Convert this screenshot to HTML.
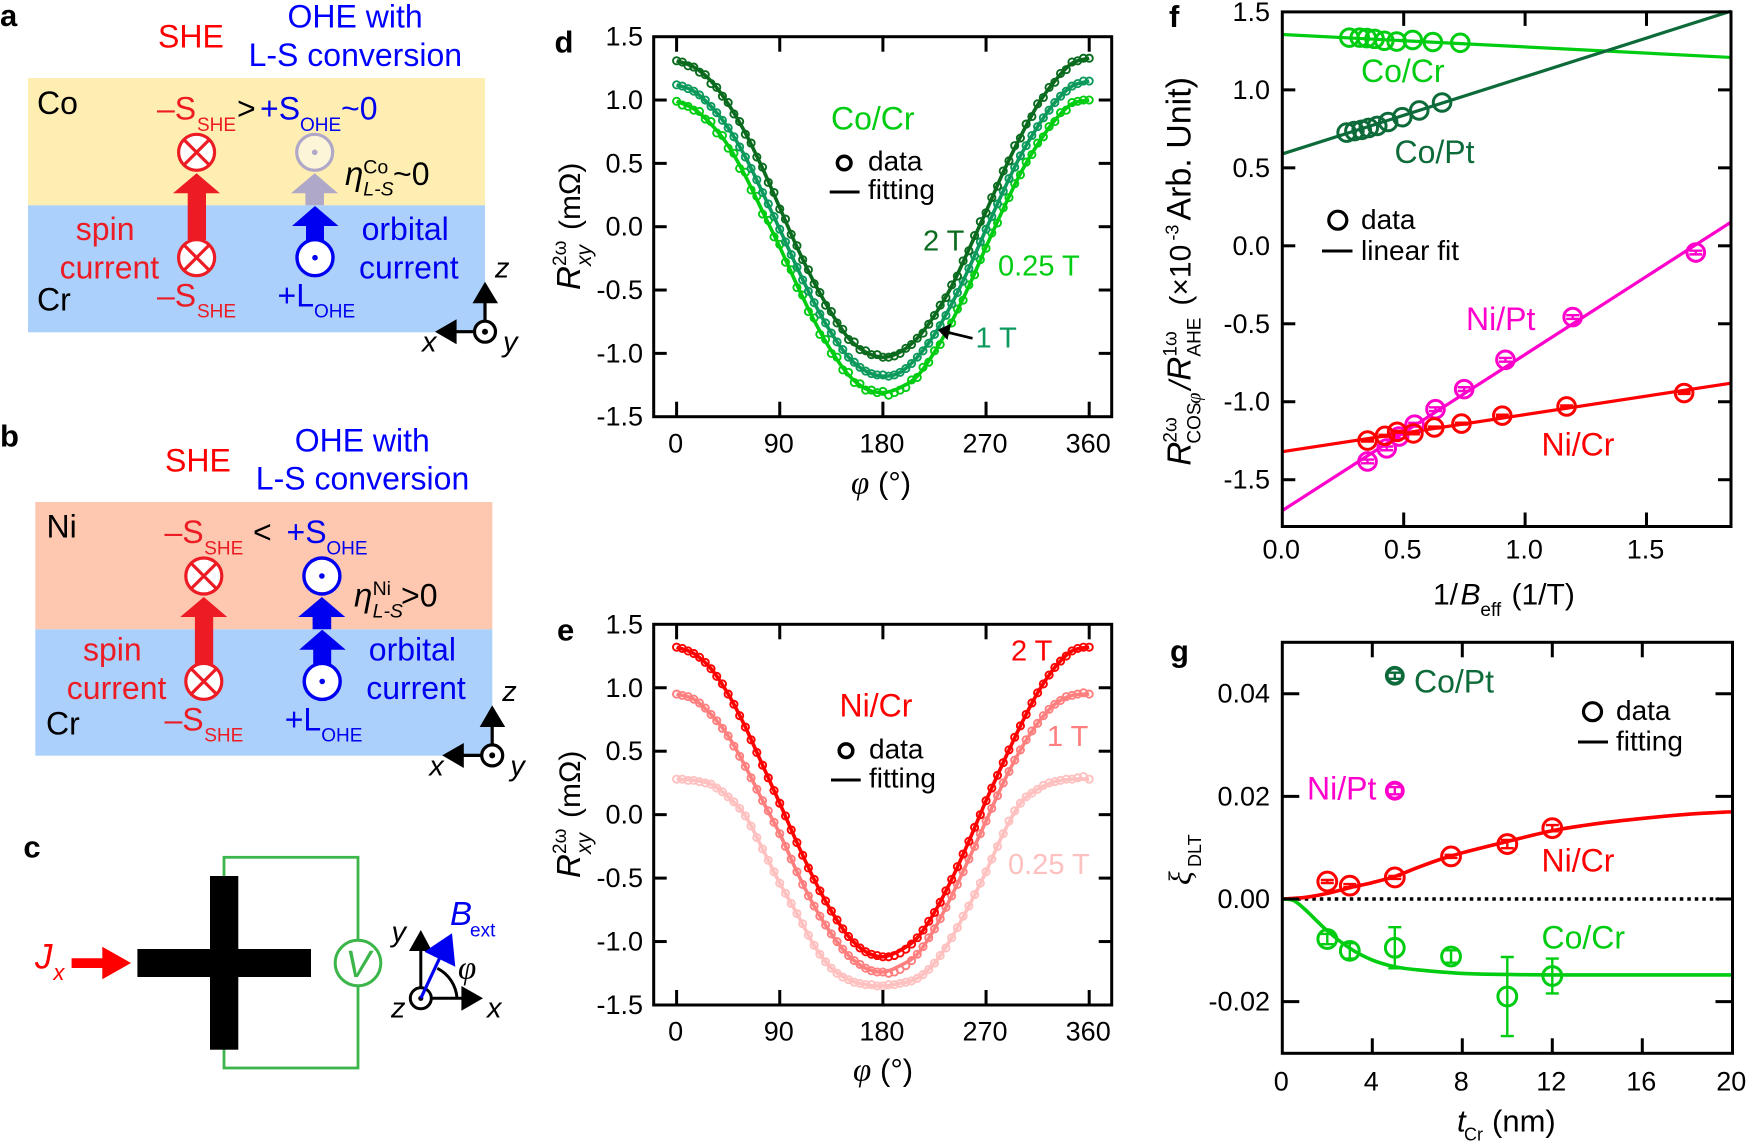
<!DOCTYPE html>
<html lang="en"><head><meta charset="utf-8"><title>SHE and OHE figure</title>
<style>
html,body{margin:0;padding:0;background:#fff}
svg{display:block;font-family:"Liberation Sans",sans-serif}
.i{font-style:italic}
.s{font-family:"Liberation Serif",serif;font-style:italic}
.b{font-weight:bold;font-size:31px}
.m{font-size:32px}
.u{font-size:19px}
.red{fill:#ed1c24}.blu{fill:#0000f0}
</style></head><body>
<svg id="figure" width="1748" height="1143" viewBox="0 0 1748 1143">
<rect x="0" y="0" width="1748" height="1143" fill="#fff"/>

<!-- Panel a -->
<g>
<text x="0" y="26" class="b">a</text>
<rect x="28" y="78" width="457" height="127.3" fill="#feeeb2"/>
<rect x="28" y="205.3" width="457" height="127" fill="#aad0fb"/>
<text x="158" y="47.7" class="m" fill="#ff0000">SHE</text>
<text x="287.5" y="27.7" class="m" fill="#0000ff">OHE with</text>
<text x="248.6" y="66" class="m" fill="#0000ff">L-S conversion</text>
<text x="37" y="114" class="m">Co</text>
<text x="37" y="310.7" class="m">Cr</text>
<text x="157" y="119.3" class="m red">–S</text>
<text x="197" y="131" class="u red">SHE</text>
<text x="237" y="119.3" class="m">&gt;</text>
<text x="260" y="119.3" class="m blu">+S</text>
<text x="300" y="131" class="u blu">OHE</text>
<text x="341" y="119.3" class="m blu">~0</text>
<polygon points="196.6,173.3 220,193.3 206,193.3 206,240 187.7,240 187.7,193.3 173,193.3" fill="#ed1c24"/>
<polygon points="314.7,173.3 338,193.3 324,193.3 324,205.3 305.4,205.3 305.4,193.3 291,193.3" fill="#b0a8c8"/>
<polygon points="315,206 338.5,226 324,226 324,242 306,242 306,226 292,226" fill="#0000f0"/>
<g><circle cx="196.6" cy="152.3" r="18" fill="#fff" stroke="#ed1c24" stroke-width="3.2"/><path d="M184 139.7L209.2 164.9M209.2 139.7L184 164.9" stroke="#ed1c24" stroke-width="3.2"/></g>
<g><circle cx="314.7" cy="152.3" r="18" fill="#fdf5d8" stroke="#b0a8c8" stroke-width="3.2"/><circle cx="314.7" cy="152.3" r="2.8" fill="#b0a8c8"/></g>
<g><circle cx="196.6" cy="257.7" r="18" fill="#fff" stroke="#ed1c24" stroke-width="3.2"/><path d="M184 245L209.2 270.3M209.2 245L184 270.3" stroke="#ed1c24" stroke-width="3.2"/></g>
<g><circle cx="315" cy="257.7" r="18" fill="#fff" stroke="#0000f0" stroke-width="3.4"/><circle cx="315" cy="257.7" r="2.8" fill="#0000f0"/></g>
<text x="345" y="185" font-size="33" class="i">η</text>
<text x="363.3" y="173.3" font-size="19.5">Co</text>
<text x="363.3" y="195.7" font-size="19.5" class="i">L-S</text>
<text x="393" y="185" class="m">~0</text>
<text x="75.8" y="240" class="m red">spin</text>
<text x="59.6" y="278.3" class="m red">current</text>
<text x="361.6" y="240" class="m blu">orbital</text>
<text x="359" y="278.3" class="m blu">current</text>
<text x="157" y="306.7" class="m red">–S</text>
<text x="197" y="317.7" class="u red">SHE</text>
<text x="277.5" y="306.7" class="m blu">+L</text>
<text x="314" y="317.7" class="u blu">OHE</text>
<g>
<path d="M485 331.7V303M485 331.7H456" stroke="#000" stroke-width="3.2" fill="none"/>
<polygon points="485,281.7 498,303.3 472.5,303.3" fill="#000"/>
<polygon points="435,331.7 456.6,319.3 456.6,344.3" fill="#000"/>
<circle cx="485" cy="331.7" r="10.5" fill="#fff" stroke="#000" stroke-width="3.2"/><circle cx="485" cy="331.7" r="3" fill="#000"/>
<text x="495" y="277.3" font-size="29" class="i">z</text><text x="422" y="351.7" font-size="29" class="i">x</text><text x="503" y="351.7" font-size="29" class="i">y</text>
</g>
</g>

<!-- Panel b -->
<g>
<text x="0" y="446.7" class="b">b</text>
<rect x="35.3" y="502" width="457" height="127.3" fill="#fec7b0"/>
<rect x="35.3" y="629.3" width="457" height="126.4" fill="#aad0fb"/>
<text x="165" y="471.4" class="m" fill="#ff0000">SHE</text>
<text x="294.7" y="451.4" class="m" fill="#0000ff">OHE with</text>
<text x="255.8" y="489.7" class="m" fill="#0000ff">L-S conversion</text>
<text x="46.5" y="537.5" class="m">Ni</text>
<text x="46" y="734.4" class="m">Cr</text>
<text x="164.5" y="543" class="m red">–S</text>
<text x="204.2" y="554.7" class="u red">SHE</text>
<text x="253" y="543" class="m">&lt;</text>
<text x="286.5" y="543" class="m blu">+S</text>
<text x="326.4" y="554.7" class="u blu">OHE</text>
<polygon points="203.8,597 227.2,617 213.2,617 213.2,664 194.9,664 194.9,617 180.2,617" fill="#ed1c24"/>
<polygon points="321.9,597 345.2,617 331.2,617 331.2,629.3 312.6,629.3 312.6,617 298.2,617" fill="#0000f0"/>
<polygon points="322.2,629.7 345.7,649.7 331.2,649.7 331.2,666 313.2,666 313.2,649.7 299.2,649.7" fill="#0000f0"/>
<g><circle cx="203.8" cy="576" r="18" fill="#fff" stroke="#ed1c24" stroke-width="3.2"/><path d="M191.2 563.4L216.4 588.6M216.4 563.4L191.2 588.6" stroke="#ed1c24" stroke-width="3.2"/></g>
<g><circle cx="321.9" cy="576" r="18" fill="#fff" stroke="#0000f0" stroke-width="3.4"/><circle cx="321.9" cy="576" r="2.8" fill="#0000f0"/></g>
<g><circle cx="203.8" cy="681.4" r="18" fill="#fff" stroke="#ed1c24" stroke-width="3.2"/><path d="M191.2 668.8L216.4 694M216.4 668.8L191.2 694" stroke="#ed1c24" stroke-width="3.2"/></g>
<g><circle cx="322.2" cy="681.4" r="18" fill="#fff" stroke="#0000f0" stroke-width="3.4"/><circle cx="322.2" cy="681.4" r="2.8" fill="#0000f0"/></g>
<text x="354" y="606.7" font-size="33" class="i">η</text>
<text x="372.6" y="595" font-size="19.5">Ni</text>
<text x="372.6" y="617.5" font-size="19.5" class="i">L-S</text>
<text x="401" y="606.7" class="m">&gt;0</text>
<text x="83" y="660.5" class="m red">spin</text>
<text x="66.8" y="699" class="m red">current</text>
<text x="368.8" y="660.5" class="m blu">orbital</text>
<text x="366.2" y="699" class="m blu">current</text>
<text x="164.5" y="730.4" class="m red">–S</text>
<text x="204.2" y="741.4" class="u red">SHE</text>
<text x="284.7" y="730.4" class="m blu">+L</text>
<text x="321.2" y="741.4" class="u blu">OHE</text>
<g>
<path d="M492.2 755.4V727M492.2 755.4H463" stroke="#000" stroke-width="3.2" fill="none"/>
<polygon points="492.2,705.4 505.2,727 479.7,727" fill="#000"/>
<polygon points="442.2,755.4 463.8,743 463.8,768" fill="#000"/>
<circle cx="492.2" cy="755.4" r="10.5" fill="#fff" stroke="#000" stroke-width="3.2"/><circle cx="492.2" cy="755.4" r="3" fill="#000"/>
<text x="502.2" y="701" font-size="29" class="i">z</text><text x="429.2" y="775.4" font-size="29" class="i">x</text><text x="510.2" y="775.4" font-size="29" class="i">y</text>
</g>
</g>

<!-- Panel c -->
<g>
<text x="23.4" y="857.5" class="b">c</text>
<rect x="224" y="857.3" width="134" height="210.7" fill="none" stroke="#3cb54a" stroke-width="2.8"/>
<rect x="210" y="876" width="28.3" height="173.7" fill="#000"/>
<rect x="137.4" y="949" width="173.6" height="28" fill="#000"/>
<circle cx="358" cy="963" r="22.8" fill="#fff" stroke="#3cb54a" stroke-width="3"/>
<text x="358" y="977" font-size="38" class="i" text-anchor="middle" fill="#3cb54a">V</text>
<polygon points="71.6,958.3 102.3,958.3 102.3,946.7 131,963 102.3,979.3 102.3,968 71.6,968" fill="#ff0000"/>
<text x="35" y="968.3" font-size="35" class="i" fill="#ff0000">J</text>
<text x="53.4" y="980" font-size="22" class="i" fill="#ff0000">x</text>
<g>
<path d="M420.8 998.3V951M420.8 998.3H462" stroke="#000" stroke-width="3" fill="none"/>
<polygon points="420.8,930 432,951 409,951" fill="#000"/>
<polygon points="483,998.3 461.4,986 461.4,1010.7" fill="#000"/>
<path d="M457 998.3A36 36 0 0 0 437.3 968.3" stroke="#000" stroke-width="3" fill="none"/>
<circle cx="420.8" cy="998.3" r="10.5" fill="#fff" stroke="#000" stroke-width="3"/><circle cx="420.8" cy="998.3" r="2.6" fill="#000"/>
<text x="391.5" y="941.7" font-size="29" class="i">y</text><text x="391" y="1017.3" font-size="29" class="i">z</text><text x="487" y="1017.3" font-size="29" class="i">x</text>
<text x="458" y="978.3" font-size="33" class="s">φ</text>
</g>
<path d="M420.8 998.3L442 953" stroke="#0000f0" stroke-width="3.2"/>
<polygon points="452,933.3 424.4,951.7 455.3,966.7" fill="#0000f0"/>
<text x="450" y="925" font-size="33" class="i" fill="#0000f0">B</text>
<text x="470" y="936.7" font-size="19" fill="#0000f0">ext</text>
</g>

<g id="charts"></g>
</svg>
<script>
// ---- Panel d data ----
const phiStepD = [0, 5];
const xTicksPhi = [0, 90, 180, 270, 360];
const yTicksR = [1.5, 1.0, 0.5, 0.0, -0.5, -1.0, -1.5];
const yTickLabelsR = ['1.5', '1.0', '0.5', '0.0', '-0.5', '-1.0', '-1.5'];
const dData2T = [1.31,1.30,1.27,1.26,1.22,1.20,1.13,1.10,1.03,0.98,0.89,0.83,0.73,0.66,0.55,0.47,0.35,0.27,0.14,0.06,-0.06,-0.15,-0.26,-0.34,-0.45,-0.52,-0.62,-0.67,-0.76,-0.81,-0.89,-0.91,-0.97,-0.98,-1.01,-1.01,-1.03,-1.03,-1.02,-1.00,-0.96,-0.93,-0.88,-0.84,-0.77,-0.70,-0.62,-0.56,-0.46,-0.39,-0.27,-0.19,-0.07,0.04,0.11,0.23,0.32,0.44,0.52,0.64,0.70,0.81,0.87,0.97,1.02,1.10,1.14,1.21,1.24,1.30,1.31,1.33,1.33];
const dData1T = [1.12,1.11,1.09,1.07,1.04,1.00,0.95,0.90,0.84,0.78,0.71,0.63,0.55,0.46,0.37,0.27,0.18,0.08,-0.02,-0.12,-0.22,-0.32,-0.42,-0.51,-0.60,-0.69,-0.76,-0.84,-0.91,-0.97,-1.03,-1.07,-1.11,-1.14,-1.16,-1.17,-1.17,-1.18,-1.17,-1.15,-1.12,-1.08,-1.03,-0.98,-0.92,-0.85,-0.78,-0.70,-0.61,-0.52,-0.43,-0.33,-0.23,-0.12,-0.02,0.08,0.18,0.28,0.38,0.47,0.56,0.64,0.72,0.79,0.86,0.92,0.98,1.03,1.07,1.11,1.13,1.15,1.15];
const dData025T = [0.99,0.96,0.95,0.92,0.91,0.85,0.83,0.74,0.72,0.62,0.58,0.46,0.43,0.29,0.24,0.10,0.05,-0.08,-0.14,-0.28,-0.34,-0.48,-0.54,-0.67,-0.72,-0.85,-0.89,-1.00,-1.03,-1.13,-1.15,-1.23,-1.24,-1.29,-1.29,-1.31,-1.30,-1.33,-1.31,-1.29,-1.27,-1.21,-1.19,-1.11,-1.07,-0.98,-0.93,-0.83,-0.76,-0.65,-0.58,-0.46,-0.38,-0.26,-0.17,-0.05,0.03,0.15,0.23,0.34,0.41,0.51,0.57,0.66,0.71,0.79,0.83,0.90,0.92,0.98,0.99,1.00,1.00];
const dFit2T = [1.31,1.26,1.15,0.97,0.74,0.46,0.15,-0.16,-0.44,-0.68,-0.88,-0.99,-1.03,-0.99,-0.88,-0.70,-0.47,-0.18,0.12,0.43,0.71,0.96,1.15,1.29,1.33];
const dFit1T = [1.12,1.07,0.95,0.78,0.55,0.27,-0.02,-0.32,-0.60,-0.84,-1.03,-1.14,-1.18,-1.15,-1.03,-0.85,-0.61,-0.33,-0.02,0.28,0.56,0.79,0.98,1.11,1.15];
const dFit025T = [0.99,0.93,0.81,0.64,0.40,0.12,-0.16,-0.46,-0.74,-0.98,-1.17,-1.28,-1.31,-1.27,-1.18,-0.99,-0.75,-0.47,-0.16,0.14,0.42,0.65,0.84,0.97,1.00];
// ---- Panel e data ----
const eData2T = [1.32,1.31,1.29,1.27,1.24,1.20,1.15,1.09,1.03,0.95,0.87,0.78,0.69,0.59,0.49,0.39,0.29,0.19,0.09,-0.01,-0.12,-0.22,-0.32,-0.42,-0.51,-0.60,-0.68,-0.76,-0.83,-0.90,-0.96,-1.01,-1.05,-1.08,-1.10,-1.11,-1.12,-1.12,-1.11,-1.09,-1.06,-1.02,-0.97,-0.91,-0.84,-0.77,-0.69,-0.60,-0.51,-0.41,-0.31,-0.21,-0.10,0.00,0.11,0.21,0.31,0.41,0.51,0.61,0.70,0.79,0.88,0.96,1.03,1.10,1.16,1.21,1.25,1.29,1.31,1.32,1.32];
const eData1T = [0.95,0.94,0.93,0.91,0.88,0.84,0.79,0.74,0.68,0.62,0.54,0.46,0.38,0.29,0.20,0.11,0.03,-0.06,-0.15,-0.25,-0.35,-0.45,-0.55,-0.64,-0.72,-0.80,-0.87,-0.94,-1.00,-1.06,-1.11,-1.15,-1.18,-1.21,-1.23,-1.24,-1.24,-1.25,-1.24,-1.22,-1.19,-1.15,-1.10,-1.04,-0.97,-0.90,-0.82,-0.73,-0.64,-0.55,-0.45,-0.35,-0.25,-0.15,-0.05,0.05,0.15,0.25,0.34,0.43,0.51,0.59,0.66,0.72,0.78,0.83,0.87,0.90,0.93,0.94,0.95,0.96,0.95];
const eData025T = [0.28,0.28,0.27,0.27,0.26,0.25,0.24,0.21,0.18,0.14,0.10,0.05,-0.01,-0.09,-0.18,-0.27,-0.36,-0.45,-0.54,-0.62,-0.70,-0.78,-0.86,-0.95,-1.03,-1.10,-1.16,-1.21,-1.25,-1.28,-1.30,-1.32,-1.33,-1.34,-1.34,-1.35,-1.35,-1.34,-1.34,-1.33,-1.32,-1.31,-1.29,-1.26,-1.22,-1.17,-1.11,-1.05,-0.97,-0.89,-0.80,-0.72,-0.63,-0.54,-0.45,-0.35,-0.25,-0.15,-0.05,0.03,0.09,0.14,0.17,0.20,0.23,0.25,0.26,0.27,0.28,0.28,0.29,0.30,0.28];
const eFit2T = [1.32,1.27,1.15,0.95,0.69,0.39,0.09,-0.22,-0.51,-0.76,-0.96,-1.08,-1.12,-1.07,-0.97,-0.77,-0.51,-0.21,0.11,0.41,0.70,0.96,1.16,1.29,1.32];
const eFit1T = [0.95,0.91,0.79,0.62,0.38,0.11,-0.15,-0.45,-0.72,-0.94,-1.11,-1.21,-1.24,-1.19,-1.10,-0.90,-0.64,-0.35,-0.05,0.25,0.51,0.72,0.87,0.94,0.95];
const eFit025T = [0.28,0.27,0.24,0.14,-0.01,-0.27,-0.54,-0.78,-1.03,-1.21,-1.30,-1.34,-1.35,-1.33,-1.29,-1.17,-0.97,-0.72,-0.45,-0.15,0.09,0.20,0.26,0.28,0.28];
// ---- Panel f data ----
const fXTicks = [0, 0.5, 1.0, 1.5];
const fXTickLabels = ['0.0', '0.5', '1.0', '1.5'];
const fYTicks = [1.5, 1.0, 0.5, 0.0, -0.5, -1.0, -1.5];
const fYTickLabels = ['1.5', '1.0', '0.5', '0.0', '-0.5', '-1.0', '-1.5'];
const coCrX = [0.276,0.319,0.348,0.380,0.420,0.471,0.537,0.620,0.733];
const coCrY = [1.335,1.335,1.332,1.327,1.315,1.31,1.32,1.307,1.302];
const coPtX = [0.265,0.297,0.327,0.356,0.391,0.436,0.494,0.564,0.658];
const coPtY = [0.726,0.736,0.744,0.756,0.769,0.794,0.825,0.868,0.919];
const niPtX = [0.351,0.430,0.481,0.545,0.631,0.749,0.919,1.196,1.703];
const niPtY = [-1.383,-1.299,-1.223,-1.147,-1.048,-0.919,-0.731,-0.457,-0.043];
const niCrX = [0.351,0.423,0.473,0.540,0.626,0.738,0.906,1.171,1.655];
const niCrY = [-1.249,-1.218,-1.193,-1.203,-1.165,-1.14,-1.089,-1.03,-0.944];
const fitEndX = [0, 1.848];
const coCrFit = [1.355, 1.208];
const coPtFit = [0.589, 1.505];
const niPtFit = [-1.698, 0.152];
const niCrFit = [-1.32, -0.881];
// ---- Panel g data ----
const gXTicks = [0, 4, 8, 12, 16, 20];
const gYTicks = [0.04, 0.02, 0.00, -0.02];
const gYTickLabels = ['0.04', '0.02', '0.00', '-0.02'];
const tCr = [2, 3, 5, 7.5, 10, 12];
const gNiCr = [0.0034,0.0026,0.0042,0.0083,0.0107,0.0138];
const gNiCrErr = [0.0003,0.0003,0.0003,0.0003,0.0008,0.0006];
const gCoCr = [-0.0078,-0.0101,-0.0095,-0.0112,-0.019,-0.015];
const gCoCrErr = [0.001,0.0015,0.004,0.0012,0.0077,0.0034];
const gCoPt = [0.0435];
const gCoPtErr = [0.0006];
const gNiPt = [0.0211];
const gNiPtErr = [0.0007];
const gSingleT = [5];
const gFitT = [0,1,2,3,4,5,6,7,8,10,12,14,16,18,20];
const gNiCrFit = [0,0.0003,0.0011,0.0022,0.0032,0.0044,0.0061,0.0077,0.0090,0.0112,0.0133,0.0147,0.0157,0.0165,0.017];
const gCoFitT = [0,0.5,1,2,3,4,5,6,8,10,12,16,20];
const gCoCrFit = [0,-0.0003,-0.002,-0.0062,-0.0096,-0.0119,-0.0132,-0.0138,-0.0145,-0.0147,-0.0148,-0.0148,-0.0148];

const NS = 'http://www.w3.org/2000/svg';
const root = document.getElementById('charts');
function mk(tag, attrs, parent) {
  const el = document.createElementNS(NS, tag);
  for (const k in attrs) el.setAttribute(k, attrs[k]);
  parent.appendChild(el);
  return el;
}
function label(str, x, y, size, fill, anchor, cls, parent) {
  const el = mk('text', {x: x, y: y, 'font-size': size, fill: fill, 'text-anchor': anchor || 'start'}, parent);
  if (cls) el.setAttribute('class', cls);
  el.textContent = str;
  
  return el;
}
function scale(v0, p0, v1, p1) { return v => p0 + (v - v0) * (p1 - p0) / (v1 - v0); }
function smoothPath(px, py) {
  let d = 'M' + px[0].toFixed(2) + ' ' + py[0].toFixed(2);
  for (let i = 0; i < px.length - 1; i++) {
    const a = Math.max(i - 1, 0), b = i + 1, c = Math.min(i + 2, px.length - 1);
    const c1x = px[i] + (px[b] - px[a]) / 6, c1y = py[i] + (py[b] - py[a]) / 6;
    const c2x = px[b] - (px[c] - px[i]) / 6, c2y = py[b] - (py[c] - py[i]) / 6;
    d += 'C' + c1x.toFixed(2) + ' ' + c1y.toFixed(2) + ' ' + c2x.toFixed(2) + ' ' + c2y.toFixed(2) + ' ' + px[b].toFixed(2) + ' ' + py[b].toFixed(2);
  }
  return d;
}
function drawFrame(g, box, sw) {
  const fr = mk('rect', {x: box.l, y: box.t, width: box.r - box.l, height: box.b - box.t, fill: 'none', stroke: '#000', 'stroke-width': sw}, g);
  
  
}
function drawXTicks(g, box, xs, vals, labels, len, base, size, sw) {
  vals.forEach((v, i) => {
    const x = xs(v);
    const tb = mk('line', {x1: x, x2: x, y1: box.b, y2: box.b - len, stroke: '#000', 'stroke-width': sw}, g);
    
    
    const tt = mk('line', {x1: x, x2: x, y1: box.t, y2: box.t + len, stroke: '#000', 'stroke-width': sw}, g);
    
    
    const lb = label(labels[i], x - 1, base, size, '#000', 'middle', null, g);
    
  });
}
function drawYTicks(g, box, ys, vals, labels, len, right, off, size, sw) {
  vals.forEach((v, i) => {
    const y = ys(v);
    const tl = mk('line', {x1: box.l, x2: box.l + len, y1: y, y2: y, stroke: '#000', 'stroke-width': sw}, g);
    
    
    const tr = mk('line', {x1: box.r, x2: box.r - len, y1: y, y2: y, stroke: '#000', 'stroke-width': sw}, g);
    
    
    const lb = label(labels[i], right, y + off, size, '#000', 'end', null, g);
    
  });
}
function drawSweep(g, xs, ys, data, fit, color) {
  const px = fit.map((v, i) => xs(i * 15));
  const py = fit.map(v => ys(v));
  const p = mk('path', {d: smoothPath(px, py), fill: 'none', stroke: color, 'stroke-width': 3.6}, g);
  
  
  data.forEach((v, i) => {
    const c = mk('circle', {cx: xs(i * phiStepD[1]), cy: ys(v), r: 3.6, fill: 'none', stroke: color, 'stroke-width': 1.9}, g);
    
    
  });
}
function drawRTitle(g, x, y, color) {
  const t = mk('g', {transform: 'translate(' + x + ' ' + y + ') rotate(-90)'}, g);
  
  
  const a = label('R', 0, 0, 33, color, 'start', 'i', t);
  
  const b = label('2ω', 24, -14, 19, color, 'start', null, t);
  
  const c = label('xy', 24, 11, 21, color, 'start', 'i', t);
  
  const d = label('(mΩ)', 60, 0, 30, color, 'start', null, t);
  
}
function drawPhiTitle(g, x, y) {
  const a = label('φ', x, y, 33, '#000', 'start', 's', g);
  
  const b = label('(°)', x + 27, y, 31, '#000', 'start', null, g);
  
}
function legendSet(g, cx, cy, r, sw, lineX1, lineX2, lineY, textX, base1, base2, text2) {
  const c = mk('circle', {cx: cx, cy: cy, r: r, fill: 'none', stroke: '#000', 'stroke-width': sw}, g);
  
  
  const a = label('data', textX, base1, 28, '#000', 'start', null, g);
  
  const l = mk('line', {x1: lineX1, x2: lineX2, y1: lineY, y2: lineY, stroke: '#000', 'stroke-width': 3}, g);
  
  
  const b = label(text2, textX, base2, 28, '#000', 'start', null, g);
  
}

// ---- Draw panel d ----
(function () {
  const g = mk('g', {}, root);
  
  
  const box = {l: 653.7, r: 1111.7, t: 36.7, b: 416.7};
  const xs = scale(0, 676.6, 360, 1089.2), ys = scale(1.5, 36.7, -1.5, 416.7);
  drawSweep(g, xs, ys, dData025T, dFit025T, '#00cc11');
  drawSweep(g, xs, ys, dData1T, dFit1T, '#0c9a5c');
  drawSweep(g, xs, ys, dData2T, dFit2T, '#0a6b1e');
  drawFrame(g, box, 3);
  drawXTicks(g, box, xs, xTicksPhi, xTicksPhi.map(String), 15, 452.7, 27, 3);
  drawYTicks(g, box, ys, yTicksR.slice(1, 6), yTickLabelsR.slice(1, 6), 13, 643, 9, 27, 3);
  const t1 = label('1.5', 643, 45.7, 27, '#000', 'end', null, g);
  
  const t2 = label('-1.5', 643, 425.7, 27, '#000', 'end', null, g);
  
  const pl = label('d', 554.5, 52.7, 31, '#000', 'start', 'b', g);
  
  drawRTitle(g, 580, 290, '#000');
  drawPhiTitle(g, 851, 493.3);
  const tt = label('Co/Cr', 831, 129.3, 32, '#00cc11', 'start', null, g);
  
  legendSet(g, 844.2, 163, 6.8, 3.5, 829.7, 859.6, 192, 868, 170.7, 199, 'fitting');
  const a = label('2 T', 923, 250.7, 29, '#0a6b1e', 'start', null, g);
  
  const b = label('0.25 T', 998, 275.7, 29, '#00cc11', 'start', null, g);
  
  const c = label('1 T', 975.5, 347.3, 29, '#0c9a5c', 'start', null, g);
  
  const ar = mk('line', {x1: 972.5, y1: 338.3, x2: 945, y2: 331.7, stroke: '#000', 'stroke-width': 2.6}, g);
  
  
  const ah = mk('polygon', {points: '938,330 951,323.5 947.5,340'}, g);
  
  
})();

// ---- Draw panel e ----
(function () {
  const g = mk('g', {}, root);
  
  
  const box = {l: 653.7, r: 1111.7, t: 624.3, b: 1005};
  const xs = scale(0, 676.6, 360, 1089.2), ys = scale(1.5, 624.3, -1.5, 1005);
  drawSweep(g, xs, ys, eData025T, eFit025T, '#ffc0c0');
  drawSweep(g, xs, ys, eData1T, eFit1T, '#ff7f7f');
  drawSweep(g, xs, ys, eData2T, eFit2T, '#ff0000');
  drawFrame(g, box, 3);
  drawXTicks(g, box, xs, xTicksPhi, xTicksPhi.map(String), 15, 1040.7, 27, 3);
  drawYTicks(g, box, ys, yTicksR.slice(1, 6), yTickLabelsR.slice(1, 6), 13, 643, 9, 27, 3);
  const t1 = label('1.5', 643, 633.3, 27, '#000', 'end', null, g);
  
  const t2 = label('-1.5', 643, 1014, 27, '#000', 'end', null, g);
  
  const pl = label('e', 557, 640.7, 31, '#000', 'start', 'b', g);
  
  drawRTitle(g, 580, 878, '#000');
  drawPhiTitle(g, 853, 1080.5);
  const tt = label('Ni/Cr', 839.5, 716.7, 32, '#ff0000', 'start', null, g);
  
  legendSet(g, 846, 750.7, 6.8, 3.5, 831, 860.7, 780, 869, 758.3, 787.3, 'fitting');
  const a = label('2 T', 1011, 660.7, 29, '#ff0000', 'start', null, g);
  
  const b = label('1 T', 1047, 746, 29, '#ff7f7f', 'start', null, g);
  
  const c = label('0.25 T', 1008, 874, 29, '#ffc0c0', 'start', null, g);
  
})();

// ---- Draw panel f ----
function drawMarkers(g, xs, ys, xv, yv, err, color, r, sw) {
  yv.forEach((v, i) => {
    const c = mk('circle', {cx: xs(xv[i]), cy: ys(v), r: r, fill: 'none', stroke: color, 'stroke-width': sw}, g);
    
    
    if (err) {
      const bar = mk('path', {d: 'M' + xs(xv[i]) + ' ' + ys(v - err[i]) + 'V' + ys(v + err[i]) + 'M' + (xs(xv[i]) - 6.5) + ' ' + ys(v - err[i]) + 'h13M' + (xs(xv[i]) - 6.5) + ' ' + ys(v + err[i]) + 'h13', fill: 'none', stroke: color, 'stroke-width': 2.4}, g);
      
      
    }
  });
}
(function () {
  const g = mk('g', {}, root);
  
  
  const box = {l: 1282.3, r: 1731, t: 11.9, b: 526.5};
  const xs = scale(0, 1282.3, 1.848, 1731), ys = scale(1.5, 11.9, -1.8, 526.5);
  const fitLine = (vals, color, name) => {
    const l = mk('line', {x1: xs(fitEndX[0]), y1: ys(vals[0]), x2: xs(fitEndX[1]), y2: ys(vals[1]), stroke: color, 'stroke-width': 3.2}, g);
    
    
  };
  fitLine(coCrFit, '#00cc11', 'co-cr-fit');
  fitLine(coPtFit, '#0d6b3a', 'co-pt-fit');
  fitLine(niPtFit, '#ff00cc', 'ni-pt-fit');
  fitLine(niCrFit, '#ff0000', 'ni-cr-fit');
  drawMarkers(g, xs, ys, coCrX, coCrY, null, '#00cc11', 8.8, 3);
  drawMarkers(g, xs, ys, coPtX, coPtY, null, '#0d6b3a', 8.8, 3);
  drawMarkers(g, xs, ys, niPtX, niPtY, niPtX.map(() => 0.012), '#ff00cc', 8.8, 3);
  drawMarkers(g, xs, ys, niCrX, niCrY, niCrX.map(() => 0.006), '#ff0000', 8.8, 3);
  drawFrame(g, box, 3);
  drawXTicks(g, box, xs, fXTicks.slice(1), fXTickLabels.slice(1), 14, 558.5, 27, 3);
  const x0 = label('0.0', xs(0) - 1, 558.5, 27, '#000', 'middle', null, g);
  
  drawYTicks(g, box, ys, fYTicks.slice(1), fYTickLabels.slice(1), 13, 1270, 9, 27, 3);
  const y1 = label(fYTickLabels[0], 1270, ys(fYTicks[0]) + 9, 27, '#000', 'end', null, g);
  
  const pl = label('f', 1169, 27, 31, '#000', 'start', 'b', g);
  
  const t = mk('g', {transform: 'translate(1190.4 465.6) rotate(-90)'}, g);
  
  
  const p1 = label('R', 0, 0, 33, '#000', 'start', 'i', t);
  
  const p2 = label('2ω', 23, -14, 19, '#000', 'start', null, t);
  
  const p3 = label('COS', 22, 10, 19, '#000', 'start', null, t);
  
  const p4 = label('φ', 62, 10, 20, '#000', 'start', 's', t);
  
  const p5 = label('/', 76, 0, 31, '#000', 'start', 'i', t);
  
  const p6 = label('R', 85, 0, 33, '#000', 'start', 'i', t);
  
  const p7 = label('1ω', 109, -14, 19, '#000', 'start', null, t);
  
  const p8 = label('AHE', 109, 10, 19, '#000', 'start', null, t);
  
  const p9 = label('(×10', 160, 0, 30, '#000', 'start', null, t);
  
  const p10 = label('-3', 225, -12, 18, '#000', 'start', null, t);
  
  const p11 = label('Arb. Unit)', 245, 0, 34, '#000', 'start', null, t);
  
  const xa = label('1/', 1433, 604.7, 30, '#000', 'start', null, g);
  
  const xb = label('B', 1460.5, 604.7, 30, '#000', 'start', 'i', g);
  
  const xc = label('eff', 1480.4, 615.8, 19, '#000', 'start', null, g);
  
  const xd = label('(1/T)', 1511.5, 604.7, 30, '#000', 'start', null, g);
  
  const a = label('Co/Cr', 1361, 81.8, 32, '#00cc11', 'start', null, g);
  
  const b = label('Co/Pt', 1394.5, 163.2, 32, '#0d6b3a', 'start', null, g);
  
  const c = label('Ni/Pt', 1466, 330, 32, '#ff00cc', 'start', null, g);
  
  const d = label('Ni/Cr', 1541.5, 455.3, 32, '#ff0000', 'start', null, g);
  
  legendSet(g, 1337.8, 220.2, 9, 3.2, 1322, 1352.5, 251, 1361, 229, 260, 'linear fit');
})();

// ---- Draw panel g ----
(function () {
  const g = mk('g', {}, root);
  
  
  const box = {l: 1282.3, r: 1732.5, t: 642.3, b: 1053.3};
  const xs = scale(0, 1282.3, 20, 1732.3), ys = scale(0, 899, 0.04, 693.7);
  const dot = mk('line', {x1: xs(0), y1: ys(0), x2: xs(19.4), y2: ys(0), stroke: '#000', 'stroke-width': 3.4, 'stroke-dasharray': '3.5 4'}, g);
  
  
  const f1 = mk('path', {d: smoothPath(gFitT.map(xs), gNiCrFit.map(ys)), fill: 'none', stroke: '#ff0000', 'stroke-width': 3.6}, g);
  
  
  const f2 = mk('path', {d: smoothPath(gCoFitT.map(xs), gCoCrFit.map(ys)), fill: 'none', stroke: '#00cc11', 'stroke-width': 3.6}, g);
  
  
  drawMarkers(g, xs, ys, tCr, gNiCr, gNiCrErr, '#ff0000', 9.4, 3);
  drawMarkers(g, xs, ys, tCr, gCoCr, gCoCrErr, '#00cc11', 9.4, 3);
  drawMarkers(g, xs, ys, gSingleT, gCoPt, gCoPtErr, '#0d6b3a', 8, 3.8);
  drawMarkers(g, xs, ys, gSingleT, gNiPt, gNiPtErr, '#ff00cc', 8, 3.8);
  drawFrame(g, box, 3);
  drawXTicks(g, box, xs, gXTicks.slice(1, 5), gXTicks.slice(1, 5).map(String), 15, 1090.7, 27, 3);
  const x0 = label(String(gXTicks[0]), xs(gXTicks[0]) - 1, 1090.7, 27, '#000', 'middle', null, g);
  
  const x5 = label(String(gXTicks[5]), xs(gXTicks[5]) - 1, 1090.7, 27, '#000', 'middle', null, g);
  
  drawYTicks(g, box, ys, gYTicks, gYTickLabels, 17, 1270, 9, 27, 3);
  const pl = label('g', 1170, 661.7, 31, '#000', 'start', 'b', g);
  
  const t = mk('g', {transform: 'translate(1191 885) rotate(-90)'}, g);
  
  
  const p1 = label('ξ', 0, 0, 32, '#000', 'start', 's', t);
  
  const p2 = label('DLT', 18, 10, 18, '#000', 'start', null, t);
  
  const xa = label('t', 1457, 1131.7, 31, '#000', 'start', 'i', g);
  
  const xb = label('Cr', 1464, 1140.7, 18, '#000', 'start', null, g);
  
  const xc = label('(nm)', 1492, 1131.7, 31, '#000', 'start', null, g);
  
  const a = label('Co/Pt', 1414, 692.7, 32, '#0d6b3a', 'start', null, g);
  
  const b = label('Ni/Pt', 1307, 799.3, 32, '#ff00cc', 'start', null, g);
  
  const c = label('Ni/Cr', 1541.5, 871.7, 32, '#ff0000', 'start', null, g);
  
  const d = label('Co/Cr', 1541.5, 948.3, 32, '#00cc11', 'start', null, g);
  
  legendSet(g, 1592.5, 711.7, 9, 3.2, 1578, 1608, 742, 1616, 720, 750.7, 'fitting');
})();
</script>
</body></html>
